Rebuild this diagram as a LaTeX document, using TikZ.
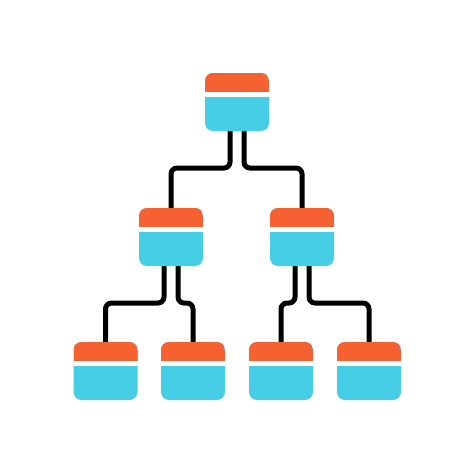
\documentclass[tikz,border=0pt]{standalone}
\usetikzlibrary{backgrounds}
\definecolor{boxorange}{RGB}{245,97,49}
\definecolor{boxblue}{RGB}{70,206,230}
\begin{document}
\begin{tikzpicture}[x=1pt,y=-1pt,
  box/.style={rectangle, rounded corners=8pt, fill=boxblue, inner sep=0pt, outer sep=0pt,
    minimum width=64pt, minimum height=58pt,
    path picture={
      \fill[boxorange, sharp corners] (path picture bounding box.north west) rectangle ([yshift=-19pt]path picture bounding box.north east);
      \fill[white, sharp corners] ([yshift=-19pt]path picture bounding box.north west) rectangle ([yshift=-24pt]path picture bounding box.north east);
    }},
  conn/.style={draw=black, line width=5pt, rounded corners=6pt}]
\useasboundingbox (0,0) rectangle (474,474);
\node[box] (T) at (237,102) {};
\node[box] (M1) at (171,237) {};
\node[box] (M2) at (302,237) {};
\node[box] (B1) at (105.5,371) {};
\node[box] (B2) at (193,371) {};
\node[box] (B3) at (281,371) {};
\node[box] (B4) at (369,371) {};
\begin{scope}[on background layer]
\fill[white] (0,0) rectangle (474,474);
\draw[conn] ([xshift=-7pt]T.south) -- ++(0,37) -| (M1.north);
\draw[conn] ([xshift=7pt]T.south) -- ++(0,37) -| (M2.north);
\draw[conn] ([xshift=-7pt]M1.south) -- ++(0,37) -| (B1.north);
\draw[conn] ([xshift=7pt]M1.south) -- ++(0,37) -| (B2.north);
\draw[conn] ([xshift=-7pt]M2.south) -- ++(0,37) -| (B3.north);
\draw[conn] ([xshift=7pt]M2.south) -- ++(0,37) -| (B4.north);
\end{scope}
\end{tikzpicture}
\end{document}
